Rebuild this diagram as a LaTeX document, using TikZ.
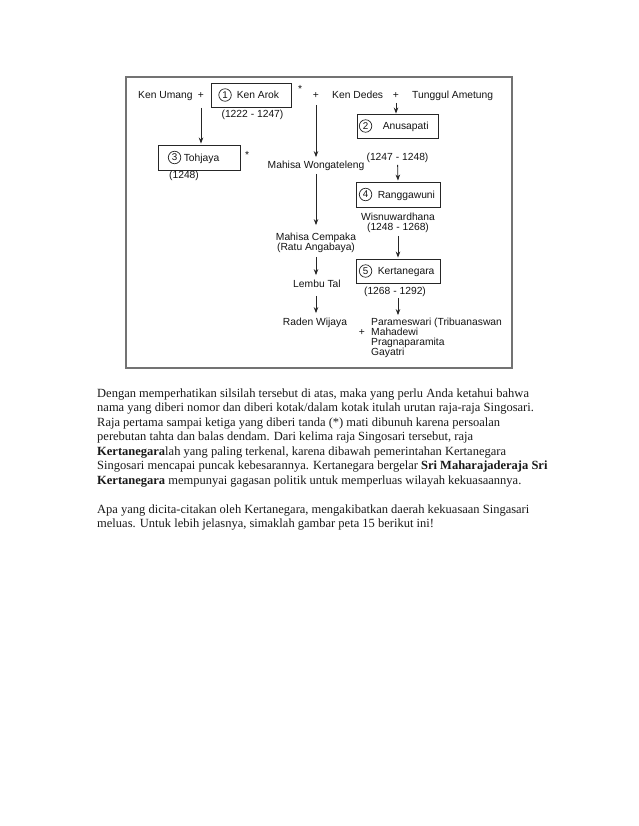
\documentclass[tikz,border=0pt]{standalone}
\usepackage{fontspec}
\setmainfont{Liberation Serif}
\newfontfamily\arialf{Liberation Sans}
\usetikzlibrary{arrows.meta}
\begin{document}
\begin{tikzpicture}[x=1pt,y=-1pt,
  dtext/.style={font=\arialf\fontsize{10.3}{10.3}\selectfont,inner sep=0pt,text height=7.4pt,text depth=0pt,text=black!92},
  kbox/.style={draw=black!85,line width=0.9pt,inner sep=0pt},
  cnum/.style={circle,draw=black!85,line width=0.7pt,inner sep=0pt,minimum size=12.5pt,font=\arialf\fontsize{9.8}{9.8}\selectfont,text=black!92},
  arr/.style={draw=black!85,line width=0.8pt,-{Stealth[length=6pt,width=4.5pt]}},
  body/.style={font=\fontsize{12.5}{14.4}\selectfont,inner sep=0pt,anchor=base west,text=black!90}]
\useasboundingbox (0,0) rectangle (638,826);
\fill[white] (0,0) rectangle (638,826);
% frame
\draw[black!55,line width=1.6pt] (126,77) rectangle (512,368);

% top row
\node[dtext,anchor=west] (umang) at (138,95) {Ken Umang};
\node[dtext] (plus1) at (201,95) {+};
\node[kbox,minimum width=80pt,minimum height=24pt] (arok) at (251,95) {};
\node[cnum] (arokn) at ([xshift=14.5pt]arok.west) {1};
\node[dtext,anchor=west] (arokt) at ([xshift=26pt]arok.west) {Ken Arok};
\node[dtext] (star1) at (300,89) {*};
\node[dtext] (plus2) at (316,95) {+};
\node[dtext,anchor=west] (dedes) at (332,95) {Ken Dedes};
\node[dtext] (plus3) at (396,95) {+};
\node[dtext,anchor=west] (tunggul) at (412,95) {Tunggul Ametung};
\node[dtext] (arokyr) at (252.5,114) {(1222 - 1247)};

% Anusapati
\node[kbox,minimum width=81pt,minimum height=24pt] (anus) at (397.5,126) {};
\node[cnum] (anusn) at ([xshift=9pt]anus.west) {2};
\node[dtext,anchor=west] (anust) at ([xshift=26pt]anus.west) {Anusapati};
\node[dtext] (anusyr) at (397.5,157) {(1247 - 1248)};

% Tohjaya
\node[kbox,minimum width=82pt,minimum height=25pt] (toh) at (199,157.5) {};
\node[cnum] (tohn) at ([xshift=17pt]toh.west) {3};
\node[dtext,anchor=west] (toht) at ([xshift=26pt]toh.west) {Tohjaya};
\node[dtext] (star3) at (247,155) {*};
\node[dtext] (tohyr) at (184,175) {(1248)};

% Mahisa Wongateleng column
\node[dtext] (mwong) at (316,165) {Mahisa Wongateleng};
\node[dtext] (mcemp) at (316,237) {Mahisa Cempaka};
\node[dtext] (ratu) at (316,247) {(Ratu Angabaya)};
\node[dtext] (lembu) at (317,284) {Lembu Tal};
\node[dtext] (raden) at (315,322) {Raden Wijaya};

% Ranggawuni
\node[kbox,minimum width=84pt,minimum height=25pt] (rang) at (398,194.5) {};
\node[cnum] (rangn) at ([xshift=10pt]rang.west) {4};
\node[dtext,anchor=west] (rangt) at ([xshift=22pt]rang.west) {Ranggawuni};
\node[dtext] (wisnu) at (398,217) {Wisnuwardhana};
\node[dtext] (wisnuyr) at (398,227) {(1248 - 1268)};

% Kertanegara
\node[kbox,minimum width=84pt,minimum height=24pt] (kerta) at (398,271) {};
\node[cnum] (kertan) at ([xshift=10pt]kerta.west) {5};
\node[dtext,anchor=west] (kertat) at ([xshift=22pt]kerta.west) {Kertanegara};
\node[dtext] (kertayr) at (395,291) {(1268 - 1292)};

% wives
\node[dtext,anchor=west] (w1) at (371,322) {Parameswari (Tribuanaswan};
\node[dtext] (plus4) at (362,332) {+};
\node[dtext,anchor=west] (w2) at (371,332) {Mahadewi};
\node[dtext,anchor=west] (w3) at (371,342) {Pragnaparamita};
\node[dtext,anchor=west] (w4) at (371,352) {Gayatri};

% connectors
\draw[arr,shorten <=9pt,shorten >=1pt] (plus1.south) -- (toh.north -| plus1.south);
\draw[arr,shorten <=6pt,shorten >=4pt] (plus2.south) -- (mwong.north);
\draw[arr,shorten <=4pt] (plus3.south) -- (anus.north -| plus3.south);
\draw[arr,shorten <=4pt,shorten >=1pt] (anusyr.south) -- (rang.north);
\draw[arr,shorten <=5pt,shorten >=1pt] (wisnuyr.south) -- (kerta.north);
\coordinate (kc) at ([xshift=3pt]kertayr.south);
\draw[arr,shorten <=3pt,shorten >=3pt] (kc) -- (kc |- w1.north);
\draw[arr,shorten <=5pt,shorten >=8pt] (mwong.south) -- (mcemp.north);
\draw[arr,shorten <=6pt,shorten >=5pt] (ratu.south) -- (ratu.south |- lembu.north);
\coordinate (lc) at ([xshift=-1pt]lembu.south);
\draw[arr,shorten <=8pt,shorten >=5pt] (lc) -- (lc |- raden.north);

% body text
\node[body] (l1) at (97,397) {Dengan memperhatikan silsilah tersebut di atas, maka yang perlu Anda ketahui bahwa};
\node[body] (l2) at (97,411.5) {nama yang diberi nomor dan diberi kotak/dalam kotak itulah urutan raja-raja Singosari.};
\node[body] (l3) at (97,426) {Raja pertama sampai ketiga yang diberi tanda (*) mati dibunuh karena persoalan};
\node[body] (l4) at (97,440.5) {perebutan tahta dan balas dendam. Dari kelima raja Singosari tersebut, raja};
\node[body] (l5) at (97,455) {\textbf{Kertanegara}lah yang paling terkenal, karena dibawah pemerintahan Kertanegara};
\node[body] (l6) at (97,469.5) {Singosari mencapai puncak kebesarannya. Kertanegara bergelar \textbf{Sri Maharajaderaja Sri}};
\node[body] (l7) at (97,484) {\textbf{Kertanegara} mempunyai gagasan politik untuk memperluas wilayah kekuasaannya.};
\node[body] (l8) at (97,513) {Apa yang dicita-citakan oleh Kertanegara, mengakibatkan daerah kekuasaan Singasari};
\node[body] (l9) at (97,527.5) {meluas. Untuk lebih jelasnya, simaklah gambar peta 15 berikut ini!};
\end{tikzpicture}
\end{document}
